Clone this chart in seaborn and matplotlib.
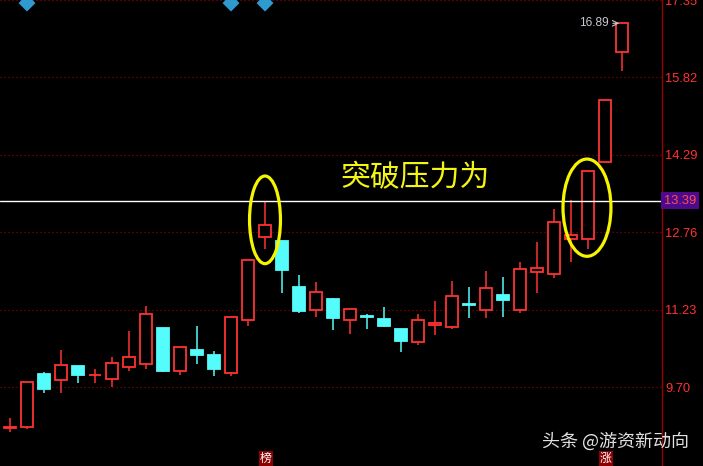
import matplotlib
matplotlib.use('Agg')
import matplotlib.pyplot as plt
import seaborn as sns
import numpy as np
import pandas as pd
from matplotlib.patches import Ellipse

# ---- data ----
opens  = [8.90, 8.92, 9.97, 9.84, 10.13, 9.94, 9.86, 10.11, 10.17, 10.88,
          10.03, 10.45, 10.35, 9.99, 11.03, 12.68, 12.60, 11.68, 11.23, 11.45,
          11.03, 11.10, 11.05, 10.86, 10.60, 10.94, 10.90, 11.34, 11.23, 11.52,
          11.23, 11.98, 11.94, 12.64, 12.64, 14.15, 16.33]
highs  = [9.09, 9.80, 10.01, 10.45, 10.13, 10.07, 10.31, 10.82, 11.31, 10.88,
          10.49, 10.92, 10.43, 11.09, 12.21, 13.39, 12.62, 11.92, 11.78, 11.47,
          11.25, 11.15, 11.29, 10.86, 11.15, 11.41, 11.80, 11.68, 12.00, 11.88,
          12.17, 12.58, 13.23, 13.41, 13.98, 15.37, 16.89]
lows   = [8.82, 8.88, 9.60, 9.60, 9.78, 9.78, 9.70, 10.03, 10.07, 10.01,
          9.95, 10.17, 9.92, 9.92, 10.92, 12.43, 11.56, 11.17, 11.09, 10.84,
          10.76, 10.86, 10.90, 10.41, 10.54, 10.74, 10.86, 11.07, 11.07, 11.09,
          11.17, 11.56, 11.86, 12.17, 12.43, 14.13, 15.94]
closes = [8.91, 9.80, 9.68, 10.15, 9.95, 9.94, 10.19, 10.31, 11.15, 10.03,
          10.49, 10.35, 10.07, 11.09, 12.21, 12.90, 12.01, 11.21, 11.58, 11.07,
          11.25, 11.09, 10.92, 10.62, 11.03, 10.97, 11.50, 11.33, 11.66, 11.43,
          12.03, 12.05, 12.96, 12.72, 13.98, 15.37, 16.89]
tick_values = [9.70, 11.23, 12.76, 14.29, 15.82, 17.35]
tick_labels = ['9.70', '11.23', '12.76', '14.29', '15.82', '17.35']
pressure_level = 13.39
last_high_label = '16.89'
signal_days = [1, 13, 15]          # blue diamond markers at top
tag_days = [15, 35]
tag_texts = ['榜', '涨']

df = pd.DataFrame({'day': np.arange(len(opens)), 'open': opens, 'high': highs,
                   'low': lows, 'close': closes})

sns.set_style('dark', {'axes.facecolor': 'black', 'figure.facecolor': 'black'})
plt.rcParams['font.family'] = ['Liberation Sans', 'Noto Sans CJK SC', 'DejaVu Sans']

RED = '#FF3232'
CYAN = '#54FCFC'

fig = plt.figure(figsize=(7.03, 4.66), dpi=100, facecolor='black')
ax = fig.add_axes([0, 0, 662 / 703, 1])
ax.set_facecolor('black')

up = df['close'] >= df['open']
colors = np.where(up, RED, CYAN)

# wicks
ax.vlines(df['day'], df['low'], df['high'], colors=colors, lw=1.1, zorder=2)
# bodies
bottoms = np.minimum(df['open'], df['close'])
heights = np.maximum(np.abs(df['close'] - df['open']), 0.015)
faces = np.where(up, 'black', CYAN)
ax.bar(df['day'], heights, bottom=bottoms, width=0.76, color=faces,
       edgecolor=colors, linewidth=1.3, zorder=3)

# grid lines
for v in tick_values:
    ax.axhline(v, color='#8A0000', lw=0.9, ls=(0, (1, 2.2)), zorder=1)

# pressure line
ax.axhline(pressure_level, color='white', lw=1.0, zorder=4)

ax.set_xlim(-10 / 17, 652 / 17)
ax.set_ylim(8.150, 17.291)

ax.yaxis.tick_right()
ax.set_yticks(tick_values)
ax.set_yticklabels(tick_labels, color=RED, fontsize=9.3)
ax.tick_params(axis='y', length=0, pad=2.5)
ax.set_xticks([])
for s in ['top', 'left', 'bottom']:
    ax.spines[s].set_visible(False)
ax.spines['right'].set_color('#990000')
ax.spines['right'].set_linewidth(1.0)
ax.grid(False)

# 13.39 label
ax.text(1.003, pressure_level, f'{pressure_level:.2f}', transform=ax.get_yaxis_transform(),
        color='#FF5050', fontsize=9.3, va='center', ha='left', zorder=6,
        bbox=dict(boxstyle='square,pad=0.2', fc='#4E0A8C', ec='none'),
        clip_on=False)

# yellow ellipses
ax.add_patch(Ellipse((15, 13.01), 1.82, 1.73, fill=False, ec='#F5F500', lw=2.3, zorder=5))
ax.add_patch(Ellipse((33.94, 13.25), 2.82, 1.92, fill=False, ec='#F5F500', lw=2.3, zorder=5))

# title annotation
ax.text(23.82, 13.84, '突破压力为', color='#F5F514', fontsize=21.5,
        family=['Noto Sans CJK SC'], va='center', ha='center', zorder=6)

# last high label with arrow
ax.annotate('', xy=(36.0, 16.89), xytext=(35.3, 16.89),
            arrowprops=dict(arrowstyle='->', color='#C8C8C8', lw=0.8), zorder=6)
ax.text(35.25, 16.89, last_high_label, color='#C8C8D2', fontsize=8.6,
        ha='right', va='center', zorder=6)

# blue signal markers at the top
sig = pd.DataFrame({'day': signal_days, 'y': [17.29] * len(signal_days)})
sns.scatterplot(data=sig, x='day', y='y', ax=ax, marker='D', s=75,
                color='#2E9AD0', edgecolor='none', zorder=6, clip_on=True, legend=False)

# tags at bottom
for d, t in zip(tag_days, tag_texts):
    ax.text(d + 0.06, 8.29, t, color='white', fontsize=8.6, family=['Noto Sans CJK SC'],
            ha='center', va='center', zorder=6,
            bbox=dict(boxstyle='square,pad=0.08', fc='#8B0000', ec='none'))

# watermark
fig.text(615 / 703, 1 - 442 / 466, '头条 @游资新动向', color='#EDEDED', fontsize=13,
         family=['Noto Sans CJK SC'], ha='center', va='center', alpha=0.95)

fig.savefig('out.png', dpi=100, facecolor='black')
